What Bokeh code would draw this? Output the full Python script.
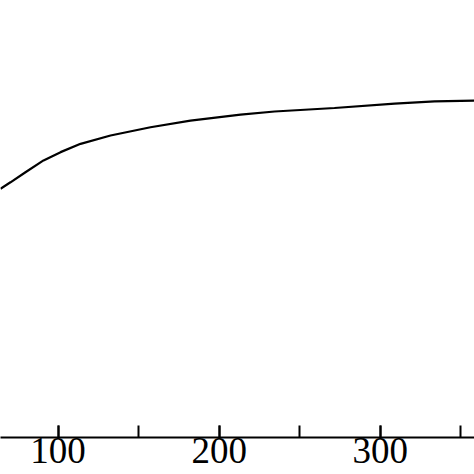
from bokeh.plotting import figure
from bokeh.models import Range1d, SingleIntervalTicker
from bokeh.embed import file_html
from bokeh.resources import INLINE

# Data (y in arbitrary units: 0 at the axis)
x_vals = [64.3, 70.5, 79.8, 91.0, 101.6, 114.0, 132.6, 157.4, 182.2, 213.3,
          234.4, 271.6, 308.9, 333.7, 358.5]
y_vals = [0.569, 0.584, 0.607, 0.634, 0.653, 0.672, 0.691, 0.710, 0.725, 0.739,
          0.746, 0.754, 0.764, 0.769, 0.771]
x_tick_labels = {100: "100", 200: "200", 300: "300"}

p = figure(width=474, height=474, output_backend="svg", toolbar_location=None,
           x_range=Range1d(64.3, 358.5), y_range=Range1d(0, 1),
           min_border_left=0, min_border_right=0, min_border_top=0,
           min_border_bottom=37)

p.line(x_vals, y_vals, line_color="black", line_width=2.2)

p.xgrid.visible = False
p.ygrid.visible = False
p.yaxis.visible = False
p.outline_line_color = None
p.background_fill_color = "white"
p.border_fill_color = "white"

ax = p.xaxis[0]
ax.ticker = SingleIntervalTicker(interval=100, num_minor_ticks=2)
ax.major_label_overrides = x_tick_labels
ax.axis_line_width = 2
ax.axis_line_color = "black"
ax.major_tick_in = 12
ax.major_tick_out = 0
ax.minor_tick_in = 12
ax.minor_tick_out = 0
ax.major_tick_line_width = 2
ax.minor_tick_line_width = 2
ax.major_tick_line_color = "black"
ax.minor_tick_line_color = "black"
ax.major_label_text_font = "Liberation Serif"
ax.major_label_text_font_size = "37px"
ax.major_label_text_color = "black"
ax.major_label_standoff = 0

open("out.html", "w").write(file_html(p, INLINE))
